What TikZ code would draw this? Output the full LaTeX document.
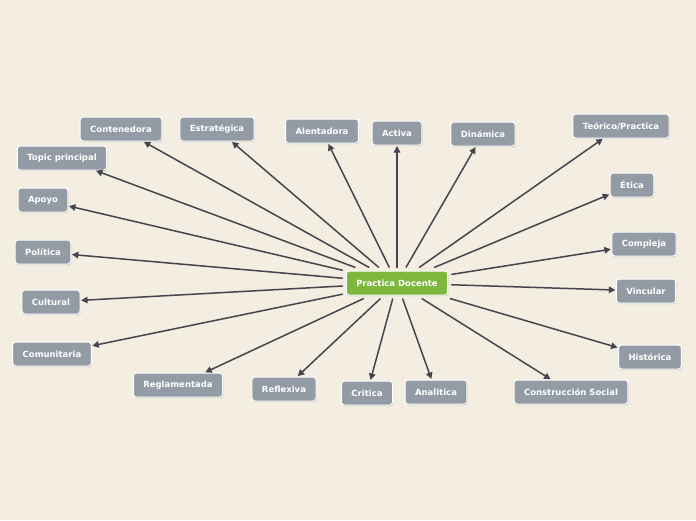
\documentclass[tikz,border=0pt]{standalone}
\usepackage{fontspec}
\setmainfont{DejaVu Sans}
\usetikzlibrary{arrows.meta,shadows}
\definecolor{bgc}{HTML}{F3EDE2}
\definecolor{boxc}{HTML}{939CA5}
\definecolor{mainc}{HTML}{7DB83C}
\definecolor{linec}{HTML}{45454D}
\tikzset{
  topic/.style={draw=white, line width=1pt, fill=boxc, rounded corners=3pt,
    text=white, font=\bfseries\fontsize{8.5}{10}\selectfont, minimum height=24pt,
    inner xsep=10pt, inner ysep=2pt,
    drop shadow={shadow xshift=0.6pt, shadow yshift=-1.2pt, opacity=0.35, fill=black!60}},
  maintopic/.style={topic, fill=mainc, outer sep=3.5pt},
  conn/.style={draw=linec, line width=1.5pt, -{Triangle[length=6.5pt,width=6.5pt]}, shorten >=0.5pt}
}
\begin{document}
\begin{tikzpicture}[x=1pt,y=-1pt]
\fill[bgc] (0,0) rectangle (696,520);
\useasboundingbox (0,0) rectangle (696,520);
\node[maintopic] (c) at (397,283) {Practica Docente};
\node[topic] (contenedora) at (121,129) {Contenedora};
\node[topic] (estrategica) at (217,129) {Estratégica};
\node[topic] (topic) at (62,158) {Topic principal};
\node[topic] (apoyo) at (43,200) {Apoyo};
\node[topic] (politica) at (43,252) {Política};
\node[topic] (cultural) at (51,302) {Cultural};
\node[topic] (comunitaria) at (52,354) {Comunitaria};
\node[topic] (reglamentada) at (178,385) {Reglamentada};
\node[topic] (reflexiva) at (284,389) {Reflexiva};
\node[topic] (critica) at (367,393) {Critica};
\node[topic] (analitica) at (436,392) {Analitica};
\node[topic] (construccion) at (571,392) {Construcción Social};
\node[topic] (historica) at (650,357) {Histórica};
\node[topic] (vincular) at (646,291) {Vincular};
\node[topic] (compleja) at (644,244) {Compleja};
\node[topic] (etica) at (632,185) {Ética};
\node[topic] (teorico) at (621,126) {Teórico/Practica};
\node[topic] (dinamica) at (483,134) {Dinámica};
\node[topic] (activa) at (397,133) {Activa};
\node[topic] (alentadora) at (322,131) {Alentadora};
\foreach \t in {contenedora,estrategica,topic,apoyo,politica,cultural,comunitaria,reglamentada,reflexiva,critica,analitica,construccion,historica,vincular,compleja,etica,teorico,dinamica,activa,alentadora}
  \draw[conn] (c) -- (\t);
\end{tikzpicture}
\end{document}
